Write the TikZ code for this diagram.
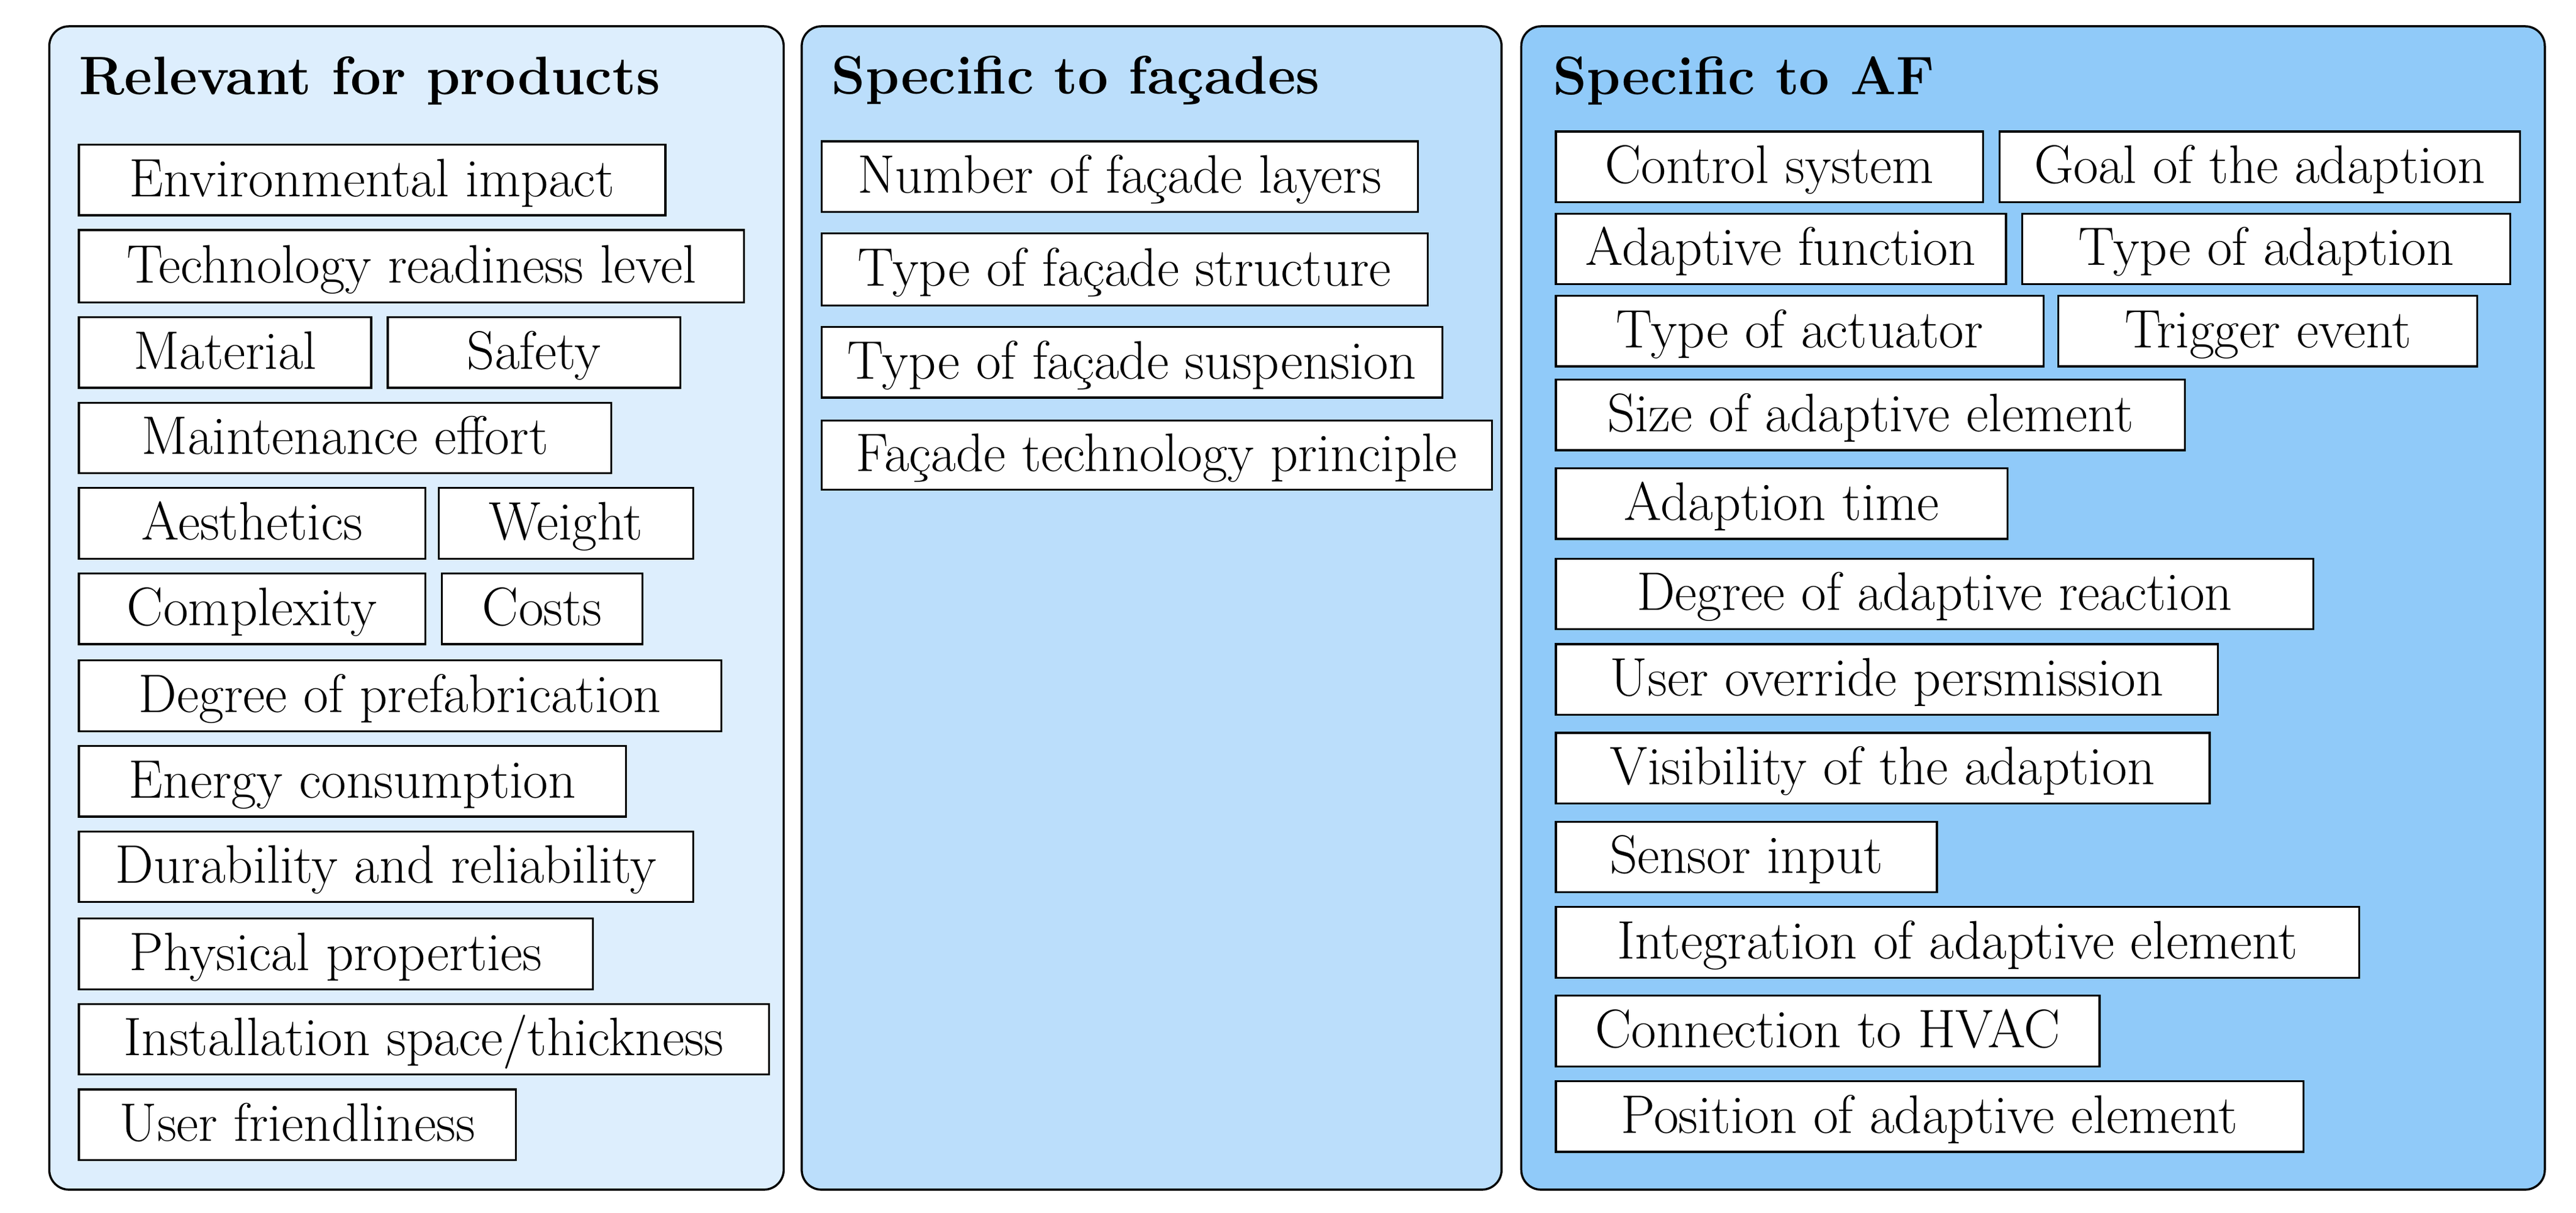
\documentclass[tikz,border=0pt]{standalone}
\definecolor{pA}{HTML}{DDEEFD}
\definecolor{pB}{HTML}{BBDEFB}
\definecolor{pC}{HTML}{90CAF9}
\tikzset{panel/.style={draw=black,line width=1.3pt,rounded corners=12pt},
 item/.style={draw=black,fill=white,line width=1.2pt,inner sep=0pt,outer sep=0pt,font=\fontsize{33}{36}\selectfont,text height=25pt,text depth=5pt},
 ttl/.style={anchor=west,inner sep=0pt,font=\fontsize{33}{36}\selectfont\bfseries}}
\newcommand\bx[6]{\node[item,minimum width={#3-#2},minimum height={#5-#4}] (#1) at ({(#2+#3)/2},{(#4+#5)/2}) {#6};}
\begin{document}
\begin{tikzpicture}[x=1pt,y=-1pt]
\useasboundingbox (0,0) rectangle (1568,738);
\draw[panel,fill=pA] (30,16) rectangle (477,724);
\draw[panel,fill=pB] (488,16) rectangle (914,724);
\draw[panel,fill=pC] (926,16) rectangle (1549,724);
\node[ttl] (t1) at (48,49) {Relevant for products};
\node[ttl] (t2) at (506,49) {Specific to façades};
\node[ttl] (t3) at (945,49) {Specific to AF};
\bx{a1}{48}{405}{88}{131}{Environmental impact}
\bx{a2}{48}{453}{140}{184}{Technology readiness level}
\bx{a3}{48}{226}{193}{236}{Material}
\bx{a4}{236}{414}{193}{236}{Safety}
\bx{a5}{48}{372}{245}{288}{Maintenance effort}
\bx{a6}{48}{259}{297}{340}{Aesthetics}
\bx{a7}{267}{422}{297}{340}{Weight}
\bx{a8}{48}{259}{349}{392}{Complexity}
\bx{a9}{269}{391}{349}{392}{Costs}
\bx{a10}{48}{439}{402}{445}{Degree of prefabrication}
\bx{a11}{48}{381}{454}{497}{Energy consumption}
\bx{a12}{48}{422}{506}{549}{Durability and reliability}
\bx{a13}{48}{361}{559}{602}{Physical properties}
\bx{a14}{48}{468}{611}{654}{Installation space/thickness}
\bx{a15}{48}{314}{663}{706}{User friendliness}
\bx{b1}{500}{863}{86}{129}{Number of façade layers}
\bx{b2}{500}{869}{142}{186}{Type of façade structure}
\bx{b3}{500}{878}{199}{242}{Type of façade suspension}
\bx{b4}{500}{908}{256}{298}{Façade technology principle}
\bx{c1}{947}{1207}{80}{123}{Control system}
\bx{c2}{1217}{1534}{80}{123}{Goal of the adaption}
\bx{c3}{947}{1221}{130}{173}{Adaptive function}
\bx{c4}{1231}{1528}{130}{173}{Type of adaption}
\bx{c5}{947}{1244}{180}{223}{Type of actuator}
\bx{c6}{1253}{1508}{180}{223}{Trigger event}
\bx{c7}{947}{1330}{231}{274}{Size of adaptive element}
\bx{c8}{947}{1222}{285}{328}{Adaption time}
\bx{c9}{947}{1408}{340}{383}{Degree of adaptive reaction}
\bx{c10}{947}{1350}{392}{435}{User override persmission}
\bx{c11}{947}{1345}{446}{489}{Visibility of the adaption}
\bx{c12}{947}{1179}{500}{543}{Sensor input}
\bx{c13}{947}{1436}{552}{595}{Integration of adaptive element}
\bx{c14}{947}{1278}{606}{649}{Connection to HVAC}
\bx{c15}{947}{1402}{658}{701}{Position of adaptive element}
\end{tikzpicture}
\end{document}
